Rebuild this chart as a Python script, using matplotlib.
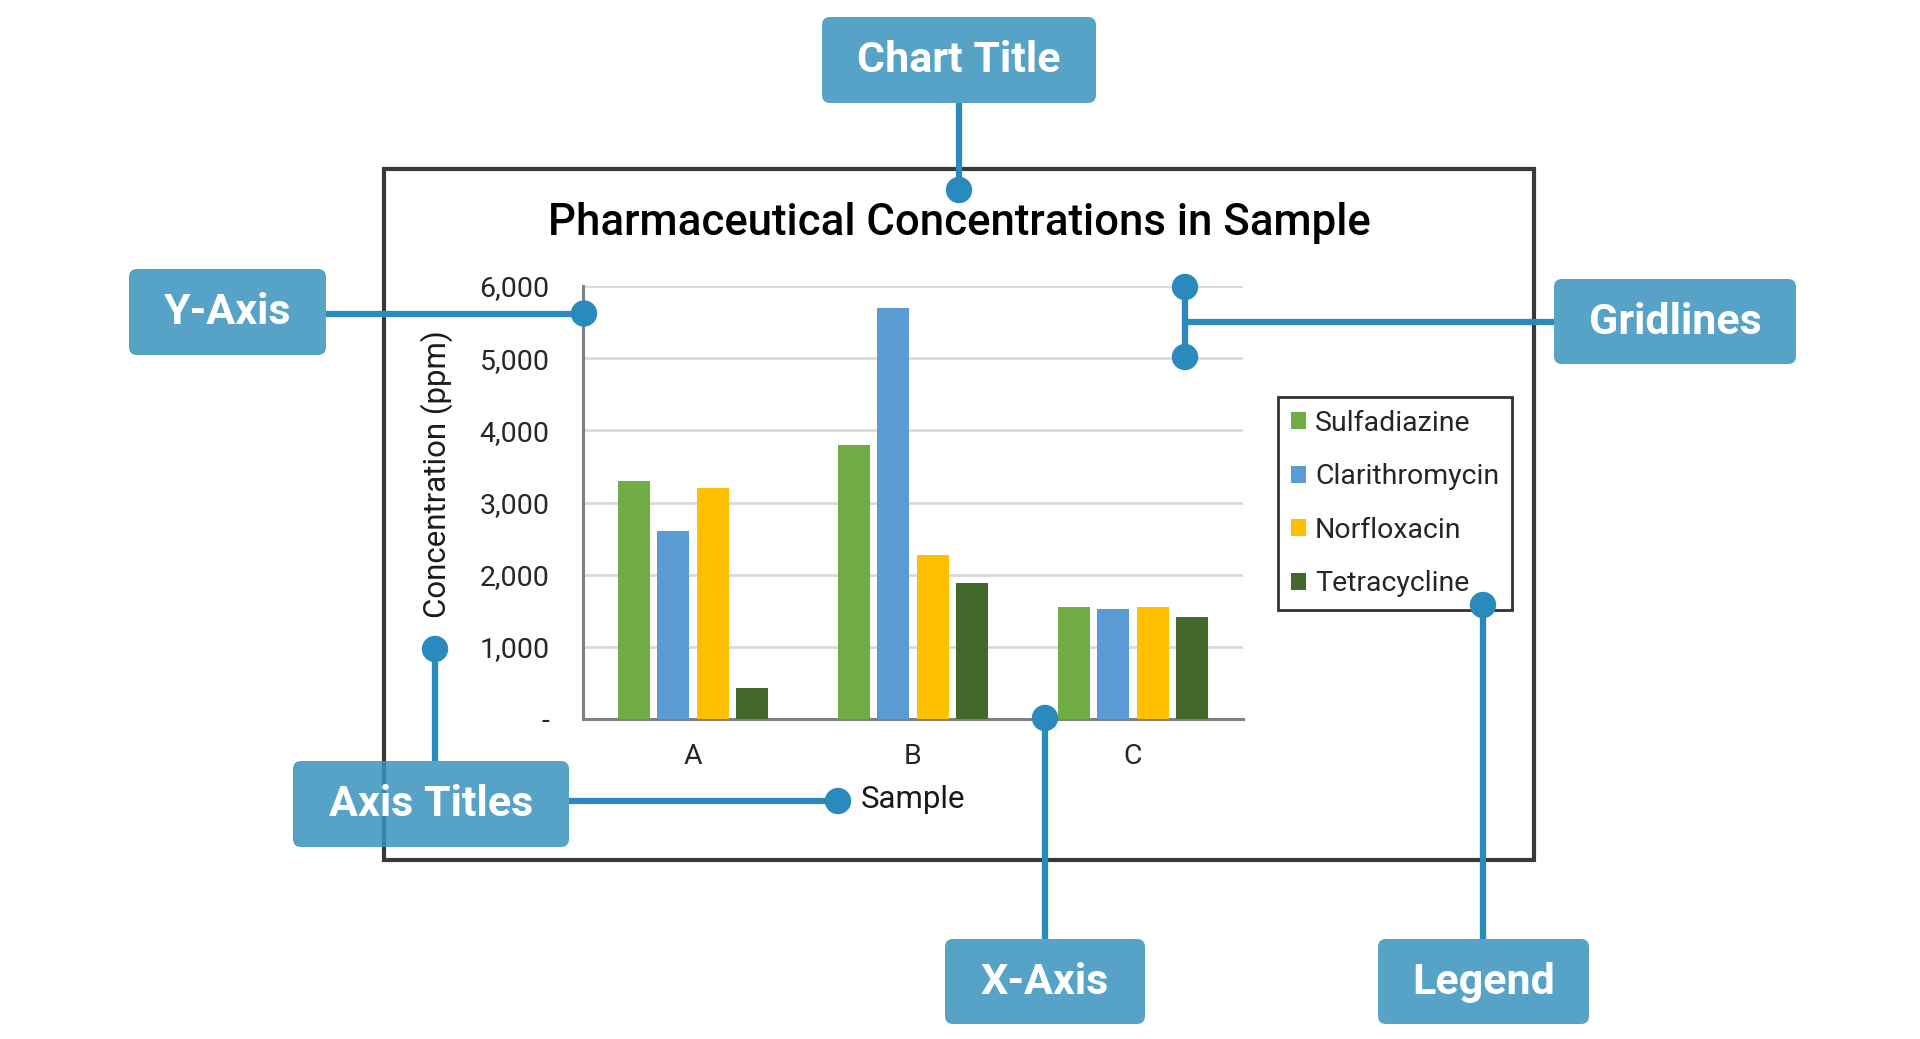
import numpy as np
import matplotlib
matplotlib.use("Agg")
import matplotlib.pyplot as plt
from matplotlib.patches import Patch, FancyBboxPatch, Rectangle, Circle
from matplotlib.ticker import FuncFormatter

plt.rcParams["font.family"] = ["Roboto", "DejaVu Sans"]

# data
samples = ["A", "B", "C"]
compounds = ["Sulfadiazine", "Clarithromycin", "Norfloxacin", "Tetracycline"]
sulfadiazine = [3300, 3800, 1550]
clarithromycin = [2610, 5700, 1530]
norfloxacin = [3200, 2270, 1550]
tetracycline = [430, 1890, 1420]
colors = ["#70AD47", "#5B9BD5", "#FFC000", "#43682B"]

W, H = 1920, 1039
fig = plt.figure(figsize=(W / 100, H / 100), dpi=100)


def px(x0, y0, x1, y1):
    # pixel box (top-left origin) -> figure fraction rect
    return [x0 / W, 1 - y1 / H, (x1 - x0) / W, (y1 - y0) / H]


ax = fig.add_axes(px(583, 286, 1243, 719))
x = np.arange(len(samples))
series = [sulfadiazine, clarithromycin, norfloxacin, tetracycline]
for i, (vals, name, c) in enumerate(zip(series, compounds, colors)):
    ax.bar(x + (i - 1.5) * 0.18, vals, width=0.145, color=c, label=name, zorder=3)

ax.set_xlim(-0.5, 2.5)
ax.set_ylim(0, 6000)
ax.set_yticks(np.arange(0, 6001, 1000))
ax.yaxis.set_major_formatter(FuncFormatter(lambda v, p: "-" if v == 0 else f"{int(v):,}"))
ax.set_xticks(x)
ax.set_xticklabels(samples)
ax.grid(axis="y", color="#D9D9D9", linewidth=2, zorder=0)
for s in ["top", "right"]:
    ax.spines[s].set_visible(False)
for s in ["left", "bottom"]:
    ax.spines[s].set_color("#7F7F7F")
    ax.spines[s].set_linewidth(2.2)
ax.tick_params(axis="y", length=0, pad=24, labelsize=20.5, labelcolor="#262626")
ax.tick_params(axis="x", length=0, pad=17, labelsize=20.5, labelcolor="#262626")
ax.set_ylabel("Concentration (ppm)", fontsize=22.5, labelpad=19, color="#1a1a1a")
ax.yaxis.label.set_y(0.565)
ax.set_xlabel("Sample", fontsize=22.5, labelpad=11, color="#1a1a1a")

handles = [Patch(facecolor=c, edgecolor="none") for c in colors]
leg = ax.legend(handles, compounds, loc="upper left",
                bbox_to_anchor=(1278 / W, 1 - 397 / H), bbox_transform=fig.transFigure,
                fontsize=20.5, frameon=True, fancybox=False, edgecolor="black",
                handlelength=0.55, handleheight=0.55, handletextpad=0.3,
                labelspacing=0.93, borderpad=0.45, borderaxespad=0)
leg.get_frame().set_linewidth(2)
for t in leg.get_texts():
    t.set_color("#262626")

# overlay in pixel coordinates for the frame and callouts
ov = fig.add_axes([0, 0, 1, 1], zorder=5)
ov.set_xlim(0, W)
ov.set_ylim(H, 0)
ov.axis("off")

ov.text(959, 223, "Pharmaceutical Concentrations in Sample", ha="center", va="center",
        fontsize=31.5, fontweight="medium", color="black")
ov.add_patch(Rectangle((384, 169), 1150, 691, fill=False, edgecolor="#3A3A3A", linewidth=3))

line_c = "#2B8ABD"
box_c = "#3993BF"

# callout boxes: label, x0, y0, x1, y1
boxes = [
    ("Chart Title", 822, 17, 1096, 103),
    ("Y-Axis", 129, 269, 326, 355),
    ("Gridlines", 1554, 279, 1796, 364),
    ("Axis Titles", 293, 761, 569, 847),
    ("X-Axis", 945, 939, 1145, 1024),
    ("Legend", 1378, 939, 1589, 1024),
]
# connector segments and dots
segments = [
    ((959, 103), (959, 190)),
    ((326, 313.5), (584, 313.5)),
    ((1554, 322), (1185, 322)),
    ((1185, 287), (1185, 357)),
    ((569, 801), (838, 801)),
    ((435, 761), (435, 649)),
    ((1045, 939), (1045, 718)),
    ((1483, 939), (1483, 605)),
]
dots = [(959, 190), (584, 313.5), (1185, 287), (1185, 357), (838, 801),
        (435, 649), (1045, 718), (1483, 605)]

for (a, b) in segments:
    ov.plot([a[0], b[0]], [a[1], b[1]], color=line_c, linewidth=4.5,
            solid_capstyle="butt", zorder=2)
for (cx, cy) in dots:
    ov.add_patch(Circle((cx, cy), 12.5, color=line_c, zorder=3))
for label, x0, y0, x1, y1 in boxes:
    ov.add_patch(FancyBboxPatch((x0, y0), x1 - x0, y1 - y0,
                                boxstyle="round,pad=0,rounding_size=8",
                                facecolor=box_c, edgecolor="none", alpha=0.85, zorder=4))
    ov.text((x0 + x1) / 2, (y0 + y1) / 2 + 1, label, ha="center", va="center",
            fontsize=31, fontweight="bold", color="white", zorder=5)

fig.savefig("out.png", dpi=100, facecolor="white")
